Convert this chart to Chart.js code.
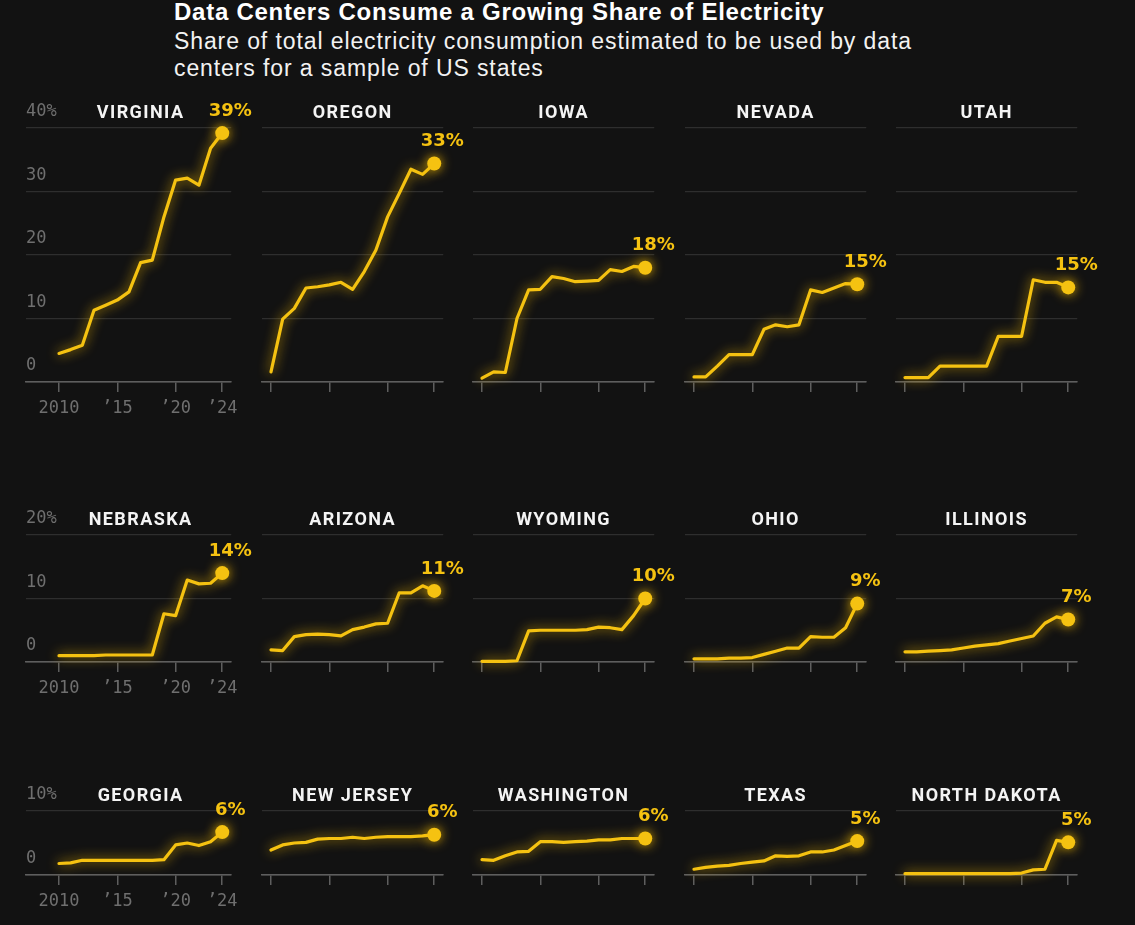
<!DOCTYPE html>
<html>
<head>
<meta charset="utf-8">
<script src="https://cdn.jsdelivr.net/npm/chart.js@4"></script>
<style>
  body { margin: 0; background: #121212; width: 1135px; height: 925px; overflow: hidden; position: relative; }
  #title { position: absolute; left: 174px; top: -2px; color: #fff; font: 700 24px "Liberation Sans", Arial, sans-serif; letter-spacing: 0.75px; white-space: nowrap; }
  #sub { position: absolute; left: 174px; top: 28px; color: #f2f2f2; font: 400 23px/27px "Liberation Sans", Arial, sans-serif; letter-spacing: 0.9px; width: 760px; }
  canvas { position: absolute; }
</style>
</head>
<body>
<div id="title">Data Centers Consume a Growing Share of Electricity</div>
<div id="sub">Share of total electricity consumption estimated to be used by data centers for a sample of US states</div>
<script>
// years on the x axis
const years = [2010, 2011, 2012, 2013, 2014, 2015, 2016, 2017, 2018, 2019, 2020, 2021, 2022, 2023, 2024];
const xTicks = [2010, 2015, 2020, 2024];
const xTickLabels = ['2010', '\u201915', '\u201920', '\u201924'];
// y range for each row of panels
const rowMax = [40, 20, 10];

const states = ['VIRGINIA', 'OREGON', 'IOWA', 'NEVADA', 'UTAH',
  'NEBRASKA', 'ARIZONA', 'WYOMING', 'OHIO', 'ILLINOIS',
  'GEORGIA', 'NEW JERSEY', 'WASHINGTON', 'TEXAS', 'NORTH DAKOTA'];
const endLabels = ['39%', '33%', '18%', '15%', '15%', '14%', '11%', '10%', '9%', '7%', '6%', '6%', '6%', '5%', '5%'];

// share of electricity used by data centers, %
const virginia = [4.5, 5.1, 5.8, 11.3, 12.1, 12.9, 14.2, 18.8, 19.2, 26.0, 31.8, 32.1, 31.0, 36.8, 39.2];
const oregon = [1.6, 9.9, 11.6, 14.8, 15.0, 15.3, 15.7, 14.6, 17.4, 20.8, 26.0, 29.7, 33.5, 32.7, 34.4];
const iowa = [0.6, 1.6, 1.5, 10.0, 14.5, 14.6, 16.6, 16.3, 15.8, 15.9, 16.0, 17.7, 17.4, 18.2, 18.0];
const nevada = [0.8, 0.8, 2.5, 4.3, 4.3, 4.3, 8.3, 9.0, 8.7, 9.0, 14.5, 14.1, 14.8, 15.5, 15.4];
const utah = [0.7, 0.7, 0.7, 2.5, 2.5, 2.5, 2.5, 2.5, 7.2, 7.2, 7.2, 16.1, 15.7, 15.7, 14.9];
const nebraska = [1.0, 1.0, 1.0, 1.0, 1.1, 1.1, 1.1, 1.1, 1.1, 7.6, 7.3, 12.9, 12.3, 12.4, 14.0];
const arizona = [1.9, 1.8, 4.0, 4.3, 4.4, 4.3, 4.1, 5.1, 5.5, 6.0, 6.1, 10.9, 10.9, 12.0, 11.2];
const wyoming = [0.1, 0.1, 0.1, 0.2, 4.9, 5.0, 5.0, 5.0, 5.0, 5.1, 5.5, 5.4, 5.1, 7.3, 10.0];
const ohio = [0.5, 0.5, 0.5, 0.6, 0.6, 0.7, 1.2, 1.7, 2.2, 2.2, 4.0, 3.9, 3.9, 5.4, 9.2];
const illinois = [1.6, 1.6, 1.7, 1.8, 1.9, 2.2, 2.5, 2.7, 2.9, 3.3, 3.7, 4.1, 6.1, 7.1, 6.7];
const georgia = [1.8, 1.9, 2.3, 2.3, 2.3, 2.3, 2.3, 2.3, 2.3, 2.4, 4.7, 5.0, 4.6, 5.2, 6.7];
const newJersey = [3.9, 4.7, 5.0, 5.1, 5.6, 5.7, 5.7, 5.9, 5.7, 5.9, 6.0, 6.0, 6.0, 6.1, 6.3];
const washington = [2.4, 2.3, 3.0, 3.6, 3.7, 5.2, 5.2, 5.1, 5.2, 5.3, 5.5, 5.5, 5.7, 5.7, 5.7];
const texas = [0.9, 1.2, 1.4, 1.5, 1.8, 2.0, 2.2, 3.0, 2.9, 3.0, 3.6, 3.6, 3.9, 4.6, 5.3];
const northDakota = [0.2, 0.2, 0.2, 0.2, 0.2, 0.2, 0.2, 0.2, 0.2, 0.2, 0.3, 0.8, 0.9, 5.4, 5.1];

const series = [virginia, oregon, iowa, nevada, utah, nebraska, arizona, wyoming, ohio, illinois,
  georgia, newJersey, washington, texas, northDakota];

// layout
const X2010 = [59, 271, 482, 694, 905];
const GRID_TOP = [128, 535, 811];
const ZERO_Y = [382, 662, 875];
const PX_YEAR = 11.66;
const YELLOW = '#f5c211';
const GRID = '#2e2e2e';
const AXIS = '#5e5e5e';
const LABEL = '#6f6f6f';

const glow = {
  id: 'glow',
  beforeDatasetsDraw(chart) {
    const c = chart.ctx;
    c.save();
    c.shadowColor = 'rgba(255, 195, 0, 0.85)';
    c.shadowBlur = 12;
  },
  afterDatasetsDraw(chart) {
    chart.ctx.restore();
  }
};

function makeTexts(i, col) {
  return {
    id: 'texts',
    afterDraw(chart) {
      const c = chart.ctx;
      const xs = chart.scales.x, ys = chart.scales.y;
      const area = chart.chartArea;
      c.save();
      // state name
      c.fillStyle = '#f4f4f4';
      c.font = '700 18px Roboto, sans-serif';
      c.letterSpacing = '1.4px';
      c.textAlign = 'center';
      c.textBaseline = 'middle';
      const mid = (xs.getPixelForValue(2010) + xs.getPixelForValue(2024)) / 2;
      c.fillText(states[i], mid, area.top - 15);
      c.letterSpacing = '0px';
      // y labels in the first column
      if (col === 0) {
        c.fillStyle = LABEL;
        c.font = '17px "DejaVu Sans Mono", monospace';
        c.textAlign = 'left';
        ys.ticks.forEach(t => {
          const txt = t.value === ys.max ? t.value + '%' : String(t.value);
          c.fillText(txt, area.left, ys.getPixelForValue(t.value) - 16);
        });
      }
      // end value label
      const meta = chart.getDatasetMeta(0);
      const pt = meta.data[meta.data.length - 1];
      c.fillStyle = YELLOW;
      c.font = '700 18px "DejaVu Sans", sans-serif';
      c.textAlign = 'center';
      c.fillText(endLabels[i], pt.x + 8, pt.y - 22);
      c.restore();
    }
  };
}

series.forEach((values, i) => {
  const row = Math.floor(i / 5), col = i % 5;
  const leftExt = col === 0 ? 33 : 9;
  const w = 260, h = ZERO_Y[row] - GRID_TOP[row] + 80;
  const canvas = document.createElement('canvas');
  canvas.width = w;
  canvas.height = h;
  canvas.style.left = (X2010[col] - 40) + 'px';
  canvas.style.top = (GRID_TOP[row] - 40) + 'px';
  document.body.appendChild(canvas);
  const last = values.length - 1;

  new Chart(canvas, {
    type: 'line',
    data: {
      datasets: [{
        data: years.map((yr, k) => ({ x: yr, y: values[k] })),
        borderColor: YELLOW,
        borderWidth: 3.2,
        borderJoinStyle: 'round',
        borderCapStyle: 'round',
        tension: 0,
        clip: false,
        pointRadius: ctx => ctx.dataIndex === last ? 7 : 0,
        pointHoverRadius: 0,
        pointBorderWidth: 0,
        pointBackgroundColor: YELLOW
      }]
    },
    options: {
      responsive: false,
      animation: false,
      events: [],
      layout: { padding: { top: 40, bottom: 0, left: 40 - leftExt, right: w - 40 - 14 * PX_YEAR - 9 } },
      plugins: { legend: { display: false }, tooltip: { enabled: false } },
      scales: {
        x: {
          type: 'linear',
          bounds: 'data',
          min: 2010 - leftExt / PX_YEAR,
          max: 2024 + 9 / PX_YEAR,
          afterBuildTicks: s => { s.ticks = xTicks.map(v => ({ value: v })); },
          afterFit: s => { s.height = 40; },
          grid: { drawOnChartArea: false, drawTicks: true, tickLength: 10, color: AXIS, lineWidth: 1.5 },
          border: { display: true, color: AXIS, width: 1.5 },
          ticks: {
            autoSkip: false, maxRotation: 0, padding: 6, color: LABEL,
            font: { family: 'DejaVu Sans Mono', size: 17 },
            callback: v => col === 0 ? xTickLabels[xTicks.indexOf(v)] : ''
          }
        },
        y: {
          min: 0,
          max: rowMax[row],
          afterFit: s => { s.width = 0; },
          grid: { drawTicks: false, color: c => c.tick.value === 0 ? AXIS : GRID, lineWidth: 1.2 },
          border: { display: false },
          ticks: { display: false, stepSize: 10 }
        }
      }
    },
    plugins: [glow, makeTexts(i, col)]
  });
});
</script>
</body>
</html>
